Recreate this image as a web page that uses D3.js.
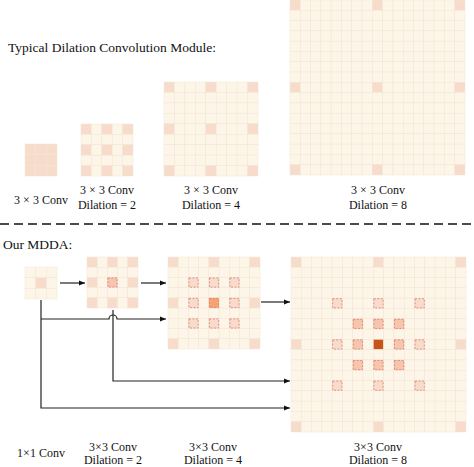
<!DOCTYPE html>
<html><head><meta charset="utf-8">
<script src="https://cdn.jsdelivr.net/npm/d3@7"></script>
<style>body{margin:0;background:#fff}</style>
</head><body><svg id="c" width="474" height="467" font-family="'Liberation Serif', 'DejaVu Serif', serif"></svg>
<script>
// grids: [x, y, size, n, kind]
var topGrids = [[25,144,32,3,"full"],[81,124,52,5,"d2"],[164,82,94,9,"d4"],[290,0,175,17,"d8"]];
var botGrids = [[25,267,32,3,"m1"],[87,257,51,5,"m2"],[168,257,92,9,"m4"],[291,257,175,17,"m8"]];
var topLabels = [["3 × 3 Conv",41,204],["3 × 3 Conv",107,194],["Dilation = 2",107,209],["3 × 3 Conv",211,194],["Dilation = 4",211,209],["3 × 3 Conv",378,194],["Dilation = 8",378,209]];
var botLabels = [["1×1 Conv",41,457],["3×3 Conv",113,451],["Dilation = 2",113,464],["3×3 Conv",213,451],["Dilation = 4",213,464],["3×3 Conv",378,451],["Dilation = 8",378,464]];

var C = {cream:"#fdf6e8", line:"#f1e5d3", pink:"#f7dccb", mid:"#f5c6ab", orange:"#f5a46f", dark:"#c9531a", dash:"#e06a6a"};
var svg = d3.select("#c");

function cellStyle(kind, n, i, j) {
    if (kind == "full") return [C.pink, false];
    var step = (n - 1) / 2;
    var edge = (i % step == 0) && (j % step == 0);
    if (kind == "d2" || kind == "d4" || kind == "d8") return [edge ? C.pink : C.cream, false];
    if (kind == "m1") return [(i == 1 && j == 1) ? C.pink : C.cream, false];
    if (kind == "m2") {
        if (i == 2 && j == 2) return [C.mid, true];
        return [(i % 2 == 0 && j % 2 == 0) ? C.pink : C.cream, false];
    }
    if (kind == "m4") {
        if (i == 4 && j == 4) return [C.orange, true];
        if (i % 2 == 0 && j % 2 == 0 && i > 0 && i < 8 && j > 0 && j < 8) return [C.pink, true];
        return [edge ? C.pink : C.cream, false];
    }
    if (kind == "m8") {
        if (i == 8 && j == 8) return [C.dark, false];
        if ([6, 8, 10].indexOf(i) >= 0 && [6, 8, 10].indexOf(j) >= 0) return [C.mid, true];
        if ([4, 8, 12].indexOf(i) >= 0 && [4, 8, 12].indexOf(j) >= 0) return [C.pink, true];
        return [edge ? C.pink : C.cream, false];
    }
}

function drawGrid(g) {
    var x = d3.scaleLinear().domain([0, g[3]]).range([g[0], g[0] + g[2]]);
    var y = d3.scaleLinear().domain([0, g[3]]).range([g[1], g[1] + g[2]]);
    var cells = d3.range(g[3] * g[3]).map(function (k) { return {i: Math.floor(k / g[3]), j: k % g[3]}; });
    var grp = svg.append("g");
    grp.selectAll("rect").data(cells).enter().append("rect")
        .attr("x", function (d) { return x(d.j); }).attr("y", function (d) { return y(d.i); })
        .attr("width", x(1) - x(0)).attr("height", y(1) - y(0))
        .attr("fill", function (d) { return cellStyle(g[4], g[3], d.i, d.j)[0]; })
        .attr("stroke", C.line).attr("stroke-width", 0.5);
    var dashed = cells.filter(function (d) { return cellStyle(g[4], g[3], d.i, d.j)[1]; });
    grp.selectAll(".dsh").data(dashed).enter().append("rect")
        .attr("x", function (d) { return x(d.j) + 0.5; }).attr("y", function (d) { return y(d.i) + 0.5; })
        .attr("width", x(1) - x(0) - 1).attr("height", y(1) - y(0) - 1)
        .attr("fill", "none").attr("stroke", C.dash).attr("stroke-width", 0.7).attr("stroke-dasharray", "2,1.5");
}
topGrids.forEach(drawGrid);
botGrids.forEach(drawGrid);

function labels(arr) {
    svg.selectAll(null).data(arr).enter().append("text")
        .attr("x", function (d) { return d[1]; }).attr("y", function (d) { return d[2]; })
        .attr("text-anchor", "middle").attr("font-size", 12).attr("fill", "#111").text(function (d) { return d[0]; });
}
labels(topLabels);
labels(botLabels);

svg.append("text").attr("x", 8).attr("y", 52).attr("font-size", 13.5).attr("fill", "#111").text("Typical Dilation Convolution Module:");
svg.append("text").attr("x", 3).attr("y", 249).attr("font-size", 13.5).attr("fill", "#111").text("Our MDDA:");
svg.append("line").attr("x1", 0).attr("x2", 474).attr("y1", 224).attr("y2", 224)
    .attr("stroke", "#111").attr("stroke-width", 1.5).attr("stroke-dasharray", "9,5");

svg.append("defs").append("marker").attr("id", "ar").attr("viewBox", "0 0 10 10")
    .attr("refX", 10).attr("refY", 5).attr("markerWidth", 5).attr("markerHeight", 5).attr("orient", "auto")
    .append("path").attr("d", "M0,1L10,5L0,9z").attr("fill", "#111");
var paths = [
    "M60,283H85", "M141,283H166", "M261,302H290",
    "M41,300V408H290", "M41,319H109A4,4 0 0 1 117,319H166", "M113,310V381H290"
];
svg.selectAll(".ln").data(paths).enter().append("path").attr("d", function (d) { return d; })
    .attr("fill", "none").attr("stroke", "#222").attr("stroke-width", 1.2).attr("marker-end", "url(#ar)");
</script></body></html>
